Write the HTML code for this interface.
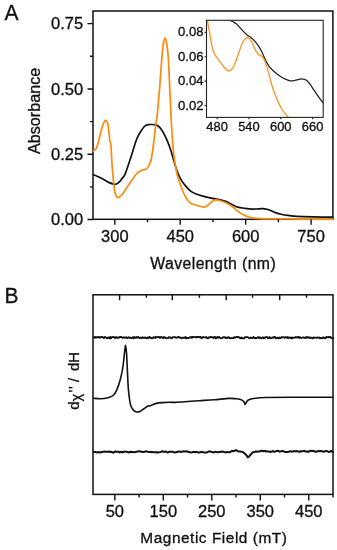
<!DOCTYPE html><html><head><meta charset="utf-8"><style>
html,body{margin:0;padding:0;background:#fff;width:337px;height:550px;overflow:hidden}
svg{display:block}
text{font-family:'Liberation Sans',Arial,Helvetica,sans-serif;fill:#111;stroke:#111;stroke-width:0.32px}
</style></head><body>
<svg width="337" height="550" viewBox="0 0 337 550">
<rect width="337" height="550" fill="#fff"/>
<text transform="translate(4.4 19.65) scale(0.94 1)" font-size="22.3">A</text>
<text transform="translate(4.5 302.9) scale(0.94 1)" font-size="22.3">B</text>
<defs><clipPath id="ca"><rect x="92.70" y="11.00" width="240.50" height="209.20"/></clipPath>
<clipPath id="ci"><rect x="206.50" y="20.30" width="116.70" height="97.10"/></clipPath></defs>
<rect x="93.00" y="11.00" width="239.90" height="208.30" fill="none" stroke="#111" stroke-width="1.5"/>
<g clip-path="url(#ca)" fill="none" stroke-linejoin="round" stroke-linecap="round">
<path d="M93.30 174.70 C94.67 175.28 98.95 176.92 101.50 178.20 C104.05 179.48 106.33 181.38 108.60 182.40 C110.87 183.42 113.42 184.30 115.10 184.30 C116.78 184.30 117.55 183.35 118.70 182.40 C119.85 181.45 120.98 179.87 122.00 178.60 C123.02 177.33 123.90 176.60 124.80 174.80 C125.70 173.00 126.50 170.38 127.40 167.80 C128.30 165.22 129.22 162.35 130.20 159.30 C131.18 156.25 132.37 152.47 133.30 149.50 C134.23 146.53 134.97 143.82 135.80 141.50 C136.63 139.18 137.32 137.52 138.30 135.60 C139.28 133.68 140.67 131.55 141.70 130.00 C142.73 128.45 143.43 127.18 144.50 126.30 C145.57 125.42 146.78 125.00 148.10 124.70 C149.42 124.40 151.10 124.47 152.40 124.50 C153.70 124.53 154.83 124.57 155.90 124.90 C156.97 125.23 157.95 125.82 158.80 126.50 C159.65 127.18 160.20 127.88 161.00 129.00 C161.80 130.12 162.58 131.30 163.60 133.20 C164.62 135.10 165.92 137.62 167.10 140.40 C168.28 143.18 169.63 146.72 170.70 149.90 C171.77 153.08 172.50 156.15 173.50 159.50 C174.50 162.85 175.57 166.87 176.70 170.00 C177.83 173.13 178.90 175.73 180.30 178.30 C181.70 180.87 183.32 183.22 185.10 185.40 C186.88 187.58 189.03 189.92 191.00 191.40 C192.97 192.88 194.92 193.52 196.90 194.30 C198.88 195.08 200.32 195.42 202.90 196.10 C205.48 196.78 209.58 197.78 212.40 198.40 C215.22 199.02 217.57 199.32 219.80 199.80 C222.03 200.28 223.82 200.55 225.80 201.30 C227.78 202.05 229.73 203.33 231.70 204.30 C233.67 205.27 235.37 206.42 237.60 207.10 C239.83 207.78 242.63 208.07 245.10 208.40 C247.57 208.73 250.25 209.02 252.40 209.10 C254.55 209.18 256.27 208.97 258.00 208.90 C259.73 208.83 261.02 208.55 262.80 208.70 C264.58 208.85 266.72 209.18 268.70 209.80 C270.68 210.42 272.47 211.62 274.70 212.40 C276.93 213.18 279.63 213.97 282.10 214.50 C284.57 215.03 287.03 215.28 289.50 215.60 C291.97 215.92 292.85 216.18 296.90 216.40 C300.95 216.62 307.70 216.77 313.80 216.90 C319.90 217.03 330.22 217.15 333.50 217.20" stroke="#111" stroke-width="1.7"/>
<path d="M93.30 151.00 C93.82 150.53 95.43 150.18 96.40 148.20 C97.37 146.22 98.20 142.43 99.10 139.10 C100.00 135.77 100.90 131.17 101.80 128.20 C102.70 125.23 103.80 122.58 104.50 121.30 C105.20 120.02 105.45 120.12 106.00 120.50 C106.55 120.88 107.28 121.42 107.80 123.60 C108.32 125.78 108.73 130.53 109.10 133.60 C109.47 136.67 109.70 140.18 110.00 142.00 C110.30 143.82 110.60 141.35 110.90 144.50 C111.20 147.65 111.40 155.13 111.80 160.90 C112.20 166.67 112.85 174.25 113.30 179.10 C113.75 183.95 114.02 187.15 114.50 190.00 C114.98 192.85 115.58 194.93 116.20 196.20 C116.82 197.47 117.48 197.60 118.20 197.60 C118.92 197.60 119.62 197.02 120.50 196.20 C121.38 195.38 122.22 194.47 123.50 192.70 C124.78 190.93 126.62 187.97 128.20 185.60 C129.78 183.23 131.42 180.67 133.00 178.50 C134.58 176.33 136.22 173.98 137.70 172.60 C139.18 171.22 140.60 170.73 141.90 170.20 C143.20 169.67 144.42 170.00 145.50 169.40 C146.58 168.80 147.52 168.05 148.40 166.60 C149.28 165.15 150.10 163.30 150.80 160.70 C151.50 158.10 152.07 154.45 152.60 151.00 C153.13 147.55 153.50 144.17 154.00 140.00 C154.50 135.83 155.05 130.33 155.60 126.00 C156.15 121.67 156.80 118.33 157.30 114.00 C157.80 109.67 158.18 104.67 158.60 100.00 C159.02 95.33 159.23 93.27 159.80 86.00 C160.37 78.73 161.37 63.73 162.00 56.40 C162.63 49.07 163.10 45.07 163.60 42.00 C164.10 38.93 164.53 38.00 165.00 38.00 C165.47 38.00 165.87 38.93 166.40 42.00 C166.93 45.07 167.67 49.23 168.20 56.40 C168.73 63.57 169.25 77.73 169.60 85.00 C169.95 92.27 170.03 94.17 170.30 100.00 C170.57 105.83 170.87 113.83 171.20 120.00 C171.53 126.17 171.87 131.17 172.30 137.00 C172.73 142.83 173.15 149.50 173.80 155.00 C174.45 160.50 175.52 166.32 176.20 170.00 C176.88 173.68 177.02 174.13 177.90 177.10 C178.78 180.07 180.30 184.63 181.50 187.80 C182.70 190.97 183.72 193.63 185.10 196.10 C186.48 198.57 188.03 201.12 189.80 202.60 C191.57 204.08 193.52 204.27 195.70 205.00 C197.88 205.73 201.02 206.87 202.90 207.00 C204.78 207.13 205.67 206.55 207.00 205.80 C208.33 205.05 209.50 203.50 210.90 202.50 C212.30 201.50 213.67 200.05 215.40 199.80 C217.13 199.55 219.32 200.38 221.30 201.00 C223.28 201.62 225.32 202.45 227.30 203.50 C229.28 204.55 231.23 205.82 233.20 207.30 C235.17 208.78 237.12 211.02 239.10 212.40 C241.08 213.78 243.13 214.73 245.10 215.60 C247.07 216.47 248.45 217.10 250.90 217.60 C253.35 218.10 256.62 218.38 259.80 218.60 C262.98 218.82 263.30 218.83 270.00 218.90 C276.70 218.97 289.42 218.98 300.00 219.00 C310.58 219.02 327.92 219.00 333.50 219.00" stroke="#FD8B10" stroke-width="1.75"/>
</g>
<rect x="206.50" y="20.30" width="116.70" height="97.10" fill="#fff"/>
<g clip-path="url(#ci)" fill="none" stroke-linejoin="round" stroke-linecap="round">
<path d="M227.00 18.90 C227.48 19.15 228.82 19.88 229.90 20.40 C230.98 20.92 232.32 21.33 233.50 22.00 C234.68 22.67 235.52 23.00 237.00 24.40 C238.48 25.80 240.77 28.68 242.40 30.40 C244.03 32.12 245.32 33.47 246.80 34.70 C248.28 35.93 249.90 36.65 251.30 37.80 C252.70 38.95 253.85 40.02 255.20 41.60 C256.55 43.18 258.17 45.32 259.40 47.30 C260.63 49.28 261.58 51.38 262.60 53.50 C263.62 55.62 264.60 58.15 265.50 60.00 C266.40 61.85 267.22 63.30 268.00 64.60 C268.78 65.90 269.05 66.53 270.20 67.80 C271.35 69.07 273.12 70.72 274.90 72.20 C276.68 73.68 279.05 75.50 280.90 76.70 C282.75 77.90 284.40 78.72 286.00 79.40 C287.60 80.08 289.17 80.60 290.50 80.80 C291.83 81.00 292.82 80.78 294.00 80.60 C295.18 80.42 296.27 80.00 297.60 79.70 C298.93 79.40 300.52 78.70 302.00 78.80 C303.48 78.90 305.17 79.40 306.50 80.30 C307.83 81.20 308.82 82.65 310.00 84.20 C311.18 85.75 312.40 87.82 313.60 89.60 C314.80 91.38 316.02 93.20 317.20 94.90 C318.38 96.60 319.67 98.42 320.70 99.80 C321.73 101.18 322.72 102.30 323.40 103.20 C324.08 104.10 324.57 104.87 324.80 105.20" stroke="#222" stroke-width="1.3"/>
<path d="M206.90 18.50 C206.98 18.87 206.97 18.42 207.40 20.70 C207.83 22.98 208.72 27.90 209.50 32.20 C210.28 36.50 211.22 42.78 212.10 46.50 C212.98 50.22 213.62 52.13 214.80 54.50 C215.98 56.87 217.57 58.48 219.20 60.70 C220.83 62.92 222.97 66.07 224.60 67.80 C226.23 69.53 227.52 71.23 229.00 71.10 C230.48 70.97 232.02 69.62 233.50 67.00 C234.98 64.38 236.45 59.37 237.90 55.40 C239.35 51.43 241.00 45.93 242.20 43.20 C243.40 40.47 244.18 39.90 245.10 39.00 C246.02 38.10 246.83 37.75 247.70 37.80 C248.57 37.85 249.45 38.27 250.30 39.30 C251.15 40.33 251.97 42.25 252.80 44.00 C253.63 45.75 254.38 48.10 255.30 49.80 C256.22 51.50 257.18 53.08 258.30 54.20 C259.42 55.32 260.98 55.53 262.00 56.50 C263.02 57.47 263.63 58.43 264.40 60.00 C265.17 61.57 265.83 63.53 266.60 65.90 C267.37 68.27 268.20 71.23 269.00 74.20 C269.80 77.17 270.27 79.98 271.40 83.70 C272.53 87.42 274.03 92.20 275.80 96.50 C277.57 100.80 279.72 105.82 282.00 109.50 C284.28 113.18 288.25 117.08 289.50 118.60" stroke="#FC9528" stroke-width="1.35"/>
</g>
<rect x="206.50" y="20.30" width="116.70" height="97.10" fill="none" stroke="#222" stroke-width="1.1"/>
<text x="203.6" y="109.56" font-size="13.15" text-anchor="end">0.02</text>
<text x="203.6" y="85.19" font-size="13.15" text-anchor="end">0.04</text>
<text x="203.6" y="60.82" font-size="13.15" text-anchor="end">0.06</text>
<text x="203.6" y="36.45" font-size="13.15" text-anchor="end">0.08</text>
<text x="217.11" y="131.2" font-size="12.9" text-anchor="middle">480</text>
<text x="248.94" y="131.2" font-size="12.9" text-anchor="middle">540</text>
<text x="280.77" y="131.2" font-size="12.9" text-anchor="middle">600</text>
<text x="312.60" y="131.2" font-size="12.9" text-anchor="middle">660</text>
<path d="M204.50 105.51H206.50 M204.50 81.14H206.50 M204.50 56.77H206.50 M204.50 32.40H206.50 M217.11 117.40V119.20 M248.94 117.40V119.20 M280.77 117.40V119.20 M312.60 117.40V119.20" stroke="#222" stroke-width="1.1" fill="none"/>
<text x="83.1" y="225.10" font-size="16.5" text-anchor="end">0.00</text>
<text x="83.1" y="159.82" font-size="16.5" text-anchor="end">0.25</text>
<text x="83.1" y="94.55" font-size="16.5" text-anchor="end">0.50</text>
<text x="83.1" y="29.27" font-size="16.5" text-anchor="end">0.75</text>
<text x="114.81" y="241.9" font-size="16.5" text-anchor="middle">300</text>
<text x="180.24" y="241.9" font-size="16.5" text-anchor="middle">450</text>
<text x="245.66" y="241.9" font-size="16.5" text-anchor="middle">600</text>
<text x="311.09" y="241.9" font-size="16.5" text-anchor="middle">750</text>
<path d="M87.50 219.50H93.00 M90.00 186.86H93.00 M87.50 154.22H93.00 M90.00 121.59H93.00 M87.50 88.95H93.00 M90.00 56.31H93.00 M87.50 23.67H93.00 M114.81 219.30V224.80 M147.52 219.30V222.30 M180.24 219.30V224.80 M212.95 219.30V222.30 M245.66 219.30V224.80 M278.38 219.30V222.30 M311.09 219.30V224.80" stroke="#111" stroke-width="1.4" fill="none"/>
<text x="213" y="269.2" font-size="15.8" textLength="125.4" text-anchor="middle">Wavelength (nm)</text>
<text transform="translate(39.8 110.9) rotate(-90)" font-size="16.2" text-anchor="middle">Absorbance</text>
<g fill="none" stroke="#111" stroke-linejoin="round" stroke-linecap="round">
<path d="M93.50 337.34 L94.30 337.08 L95.10 337.83 L95.90 336.96 L96.70 337.65 L97.50 337.40 L98.30 336.94 L99.10 337.61 L99.90 336.91 L100.70 337.50 L101.50 336.95 L102.30 336.99 L103.10 337.49 L103.90 338.09 L104.70 337.04 L105.50 337.18 L106.30 337.79 L107.10 338.27 L107.90 337.72 L108.70 337.45 L109.50 338.31 L110.30 336.92 L111.10 338.14 L111.90 337.28 L112.70 337.07 L113.50 337.03 L114.30 337.31 L115.10 338.07 L115.90 337.12 L116.70 337.72 L117.50 337.81 L118.30 337.41 L119.10 337.67 L119.90 336.94 L120.70 336.94 L121.50 337.16 L122.30 337.87 L123.10 337.49 L123.90 337.32 L124.70 337.73 L125.50 337.53 L126.30 337.30 L127.10 338.04 L127.90 337.90 L128.70 337.22 L129.50 337.71 L130.30 337.64 L131.10 338.16 L131.90 337.94 L132.70 337.28 L133.50 338.32 L134.30 337.03 L135.10 337.48 L135.90 337.99 L136.70 337.08 L137.50 337.58 L138.30 336.91 L139.10 337.85 L139.90 338.00 L140.70 337.71 L141.50 338.16 L142.30 337.32 L143.10 337.89 L143.90 337.74 L144.70 337.72 L145.50 337.53 L146.30 338.11 L147.10 338.27 L147.90 337.56 L148.70 337.85 L149.50 336.94 L150.30 337.90 L151.10 337.82 L151.90 338.34 L152.70 338.08 L153.50 337.28 L154.30 337.43 L155.10 337.85 L155.90 336.88 L156.70 337.54 L157.50 337.10 L158.30 337.03 L159.10 336.94 L159.90 338.00 L160.70 337.04 L161.50 337.22 L162.30 337.44 L163.10 338.16 L163.90 336.97 L164.70 337.52 L165.50 337.67 L166.30 338.18 L167.10 338.08 L167.90 338.15 L168.70 337.27 L169.50 337.47 L170.30 337.39 L171.10 338.18 L171.90 338.29 L172.70 337.08 L173.50 337.11 L174.30 337.20 L175.10 337.20 L175.90 337.58 L176.70 337.73 L177.50 337.24 L178.30 336.86 L179.10 337.48 L179.90 337.40 L180.70 337.70 L181.50 338.28 L182.30 337.89 L183.10 337.62 L183.90 337.78 L184.70 337.86 L185.50 336.93 L186.30 338.20 L187.10 338.02 L187.90 338.16 L188.70 338.05 L189.50 337.44 L190.30 337.45 L191.10 337.01 L191.90 337.80 L192.70 336.94 L193.50 336.95 L194.30 337.16 L195.10 337.09 L195.90 337.36 L196.70 336.93 L197.50 336.85 L198.30 337.08 L199.10 337.00 L199.90 337.40 L200.70 336.89 L201.50 338.16 L202.30 337.77 L203.10 337.07 L203.90 337.23 L204.70 337.37 L205.50 337.40 L206.30 337.03 L207.10 338.12 L207.90 338.34 L208.70 337.55 L209.50 337.58 L210.30 336.98 L211.10 337.00 L211.90 337.36 L212.70 337.25 L213.50 338.09 L214.30 337.09 L215.10 336.88 L215.90 338.28 L216.70 337.64 L217.50 337.07 L218.30 337.66 L219.10 336.89 L219.90 337.64 L220.70 338.32 L221.50 338.14 L222.30 337.89 L223.10 337.24 L223.90 337.40 L224.70 337.10 L225.50 338.01 L226.30 337.65 L227.10 338.02 L227.90 337.34 L228.70 337.18 L229.50 338.07 L230.30 338.33 L231.10 338.13 L231.90 338.06 L232.70 338.08 L233.50 337.96 L234.30 337.19 L235.10 337.63 L235.90 337.38 L236.70 336.89 L237.50 336.89 L238.30 337.27 L239.10 337.24 L239.90 337.89 L240.70 338.28 L241.50 337.52 L242.30 338.26 L243.10 338.33 L243.90 338.28 L244.70 337.40 L245.50 337.18 L246.30 337.19 L247.10 337.15 L247.90 337.16 L248.70 337.79 L249.50 338.20 L250.30 338.11 L251.10 337.57 L251.90 337.83 L252.70 338.05 L253.50 336.98 L254.30 337.84 L255.10 338.21 L255.90 338.02 L256.70 337.98 L257.50 337.57 L258.30 337.12 L259.10 338.03 L259.90 337.35 L260.70 338.05 L261.50 338.31 L262.30 337.44 L263.10 337.45 L263.90 338.27 L264.70 337.94 L265.50 337.11 L266.30 337.04 L267.10 337.08 L267.90 338.21 L268.70 338.06 L269.50 337.07 L270.30 338.09 L271.10 338.32 L271.90 337.84 L272.70 337.38 L273.50 337.67 L274.30 337.05 L275.10 336.87 L275.90 338.31 L276.70 337.82 L277.50 337.64 L278.30 338.25 L279.10 337.50 L279.90 338.16 L280.70 338.09 L281.50 337.17 L282.30 337.23 L283.10 337.29 L283.90 337.21 L284.70 337.73 L285.50 337.24 L286.30 337.48 L287.10 337.05 L287.90 338.22 L288.70 337.38 L289.50 337.54 L290.30 337.73 L291.10 338.21 L291.90 337.48 L292.70 338.23 L293.50 337.60 L294.30 337.65 L295.10 337.64 L295.90 336.88 L296.70 337.51 L297.50 337.12 L298.30 336.86 L299.10 338.05 L299.90 337.11 L300.70 337.56 L301.50 337.94 L302.30 337.68 L303.10 337.34 L303.90 337.63 L304.70 337.68 L305.50 338.03 L306.30 337.01 L307.10 337.69 L307.90 337.22 L308.70 337.27 L309.50 338.01 L310.30 337.61 L311.10 337.69 L311.90 337.99 L312.70 338.22 L313.50 337.51 L314.30 337.77 L315.10 337.61 L315.90 337.62 L316.70 337.89 L317.50 337.53 L318.30 337.65 L319.10 337.57 L319.90 338.26 L320.70 337.90 L321.50 338.16 L322.30 338.26 L323.10 337.24 L323.90 337.69 L324.70 338.26 L325.50 338.11 L326.30 337.06 L327.10 337.03 L327.90 337.51 L328.70 336.96 L329.50 337.21 L330.30 336.96 L331.10 337.85 L331.90 338.03 L332.70 338.20" stroke-width="1.9"/>
<path d="M93.50 451.88 L94.20 452.02 L94.90 452.01 L95.60 452.11 L96.30 452.30 L97.00 452.34 L97.70 452.38 L98.40 452.04 L99.10 452.20 L99.80 452.23 L100.50 452.49 L101.20 452.29 L101.90 451.96 L102.60 451.77 L103.30 451.87 L104.00 451.73 L104.70 451.61 L105.40 451.84 L106.10 451.74 L106.80 451.88 L107.50 451.71 L108.20 451.71 L108.90 451.57 L109.60 451.68 L110.30 451.98 L111.00 451.82 L111.70 452.04 L112.40 452.20 L113.10 452.75 L113.80 452.22 L114.50 451.91 L115.20 451.35 L115.90 451.75 L116.60 451.75 L117.30 451.81 L118.00 451.59 L118.70 451.98 L119.40 452.39 L120.10 452.29 L120.80 451.84 L121.50 451.90 L122.20 452.08 L122.90 452.41 L123.60 451.92 L124.30 451.61 L125.00 451.60 L125.70 451.80 L126.40 451.81 L127.10 451.96 L127.80 452.09 L128.50 452.52 L129.20 452.01 L129.90 452.14 L130.60 451.70 L131.30 452.17 L132.00 451.93 L132.70 452.09 L133.40 451.91 L134.10 452.19 L134.80 452.15 L135.50 451.89 L136.20 451.65 L136.90 451.64 L137.60 451.62 L138.30 451.41 L139.00 451.29 L139.70 451.35 L140.40 451.44 L141.10 451.59 L141.80 451.93 L142.50 451.91 L143.20 452.03 L143.90 451.68 L144.60 451.71 L145.30 451.43 L146.00 451.47 L146.70 451.27 L147.40 451.70 L148.10 451.88 L148.80 451.98 L149.50 451.83 L150.20 452.06 L150.90 452.01 L151.60 452.22 L152.30 451.91 L153.00 452.15 L153.70 452.16 L154.40 452.13 L155.10 452.14 L155.80 452.05 L156.50 452.41 L157.20 452.31 L157.90 452.39 L158.60 452.23 L159.30 452.40 L160.00 452.15 L160.70 451.93 L161.40 451.58 L162.10 451.42 L162.80 451.25 L163.50 451.66 L164.20 451.74 L164.90 451.80 L165.60 451.40 L166.30 451.75 L167.00 452.18 L167.70 452.53 L168.40 452.19 L169.10 451.82 L169.80 451.59 L170.50 451.70 L171.20 451.65 L171.90 451.74 L172.60 451.62 L173.30 452.10 L174.00 452.42 L174.70 452.59 L175.40 452.16 L176.10 452.15 L176.80 452.01 L177.50 452.08 L178.20 451.50 L178.90 451.54 L179.60 451.61 L180.30 451.92 L181.00 451.81 L181.70 451.83 L182.40 451.53 L183.10 451.56 L183.80 451.32 L184.50 451.55 L185.20 451.42 L185.90 451.38 L186.60 451.32 L187.30 451.44 L188.00 451.77 L188.70 451.91 L189.40 452.22 L190.10 452.26 L190.80 452.37 L191.50 452.45 L192.20 452.29 L192.90 452.06 L193.60 452.12 L194.30 451.98 L195.00 452.22 L195.70 452.01 L196.40 451.95 L197.10 452.01 L197.80 452.16 L198.50 452.51 L199.20 452.45 L199.90 452.40 L200.60 452.11 L201.30 451.99 L202.00 451.80 L202.70 452.22 L203.40 452.39 L204.10 452.58 L204.80 452.43 L205.50 452.48 L206.20 452.40 L206.90 452.46 L207.60 452.06 L208.30 451.67 L209.00 451.34 L209.70 451.41 L210.40 451.46 L211.10 451.88 L211.80 452.00 L212.50 452.31 L213.20 452.19 L213.90 452.26 L214.60 452.18 L215.30 451.80 L216.00 451.87 L216.70 452.03 L217.40 452.33 L218.10 452.17 L218.80 452.12 L219.50 451.86 L220.20 451.98 L220.90 451.73 L221.60 451.74 L222.30 451.46 L223.00 451.74 L223.70 451.82 L224.40 452.10 L225.10 452.25 L225.80 452.42 L226.50 452.21 L227.20 451.90 L227.90 452.00 L228.60 452.21 L229.30 452.26 L230.00 452.18 L230.70 451.68 L231.40 451.29 L232.10 450.92 L232.80 451.15 L233.50 451.07 L234.20 451.10 L234.90 450.54 L235.60 450.32 L236.30 450.14 L237.00 450.59 L237.70 451.09 L238.40 451.49 L239.10 451.44 L239.80 451.50 L240.50 451.52 L241.20 451.76 L241.90 451.65 L242.60 452.07 L243.30 452.14 L244.00 453.03 L244.70 453.62 L245.40 454.28 L246.10 454.87 L246.80 455.70 L247.50 456.96 L248.20 457.26 L248.90 456.76 L249.60 455.71 L250.30 455.15 L251.00 454.19 L251.70 453.60 L252.40 452.51 L253.10 452.29 L253.80 452.28 L254.50 451.96 L255.20 451.88 L255.90 451.39 L256.60 451.83 L257.30 451.76 L258.00 451.59 L258.70 451.60 L259.40 451.47 L260.10 451.35 L260.80 450.81 L261.50 450.81 L262.20 451.07 L262.90 451.25 L263.60 451.04 L264.30 450.97 L265.00 450.98 L265.70 451.40 L266.40 451.19 L267.10 451.46 L267.80 451.45 L268.50 451.53 L269.20 451.63 L269.90 451.56 L270.60 452.02 L271.30 451.64 L272.00 451.44 L272.70 451.13 L273.40 451.56 L274.10 451.69 L274.80 451.67 L275.50 451.33 L276.20 451.14 L276.90 450.95 L277.60 450.76 L278.30 451.09 L279.00 451.23 L279.70 451.73 L280.40 451.38 L281.10 451.37 L281.80 451.12 L282.50 451.08 L283.20 451.14 L283.90 451.41 L284.60 451.83 L285.30 452.09 L286.00 451.90 L286.70 451.91 L287.40 451.99 L288.10 451.94 L288.80 451.83 L289.50 451.29 L290.20 451.40 L290.90 451.24 L291.60 451.66 L292.30 451.61 L293.00 451.51 L293.70 451.09 L294.40 451.26 L295.10 451.16 L295.80 451.42 L296.50 451.07 L297.20 451.17 L297.90 451.33 L298.60 451.71 L299.30 451.69 L300.00 451.64 L300.70 451.23 L301.40 451.41 L302.10 451.25 L302.80 451.17 L303.50 450.93 L304.20 450.82 L304.90 451.27 L305.60 451.47 L306.30 451.47 L307.00 451.47 L307.70 451.77 L308.40 451.91 L309.10 451.45 L309.80 450.97 L310.50 450.75 L311.20 450.88 L311.90 450.81 L312.60 450.90 L313.30 450.85 L314.00 451.14 L314.70 451.53 L315.40 451.82 L316.10 451.73 L316.80 451.45 L317.50 451.31 L318.20 451.29 L318.90 451.24 L319.60 450.97 L320.30 450.91 L321.00 451.28 L321.70 451.32 L322.40 451.46 L323.10 451.26 L323.80 451.70 L324.50 451.53 L325.20 451.31 L325.90 450.94 L326.60 451.05 L327.30 451.16 L328.00 451.58 L328.70 451.85 L329.40 452.11 L330.10 451.55 L330.80 451.06 L331.50 450.96 L332.20 451.48 L332.90 451.94" stroke-width="2.0"/>
<path d="M93.60 398.20 C94.78 398.28 98.33 398.78 100.70 398.70 C103.07 398.62 105.73 398.23 107.80 397.70 C109.87 397.17 111.62 396.75 113.10 395.50 C114.58 394.25 115.50 392.87 116.70 390.20 C117.90 387.53 119.27 383.37 120.30 379.50 C121.33 375.63 122.20 371.45 122.90 367.00 C123.60 362.55 124.07 356.42 124.50 352.80 C124.93 349.18 125.17 345.30 125.50 345.30 C125.83 345.30 126.18 348.58 126.50 352.80 C126.82 357.02 127.10 364.67 127.40 370.60 C127.70 376.53 127.95 383.67 128.30 388.40 C128.65 393.13 129.07 396.07 129.50 399.00 C129.93 401.93 130.17 404.07 130.90 406.00 C131.63 407.93 132.90 409.60 133.90 410.60 C134.90 411.60 135.92 411.85 136.90 412.00 C137.88 412.15 138.57 412.08 139.80 411.50 C141.03 410.92 142.93 409.40 144.30 408.50 C145.67 407.60 147.02 406.53 148.00 406.10 C148.98 405.67 149.47 406.12 150.20 405.90 C150.93 405.68 151.40 405.22 152.40 404.80 C153.40 404.38 154.58 403.77 156.20 403.40 C157.82 403.03 159.88 402.78 162.10 402.60 C164.32 402.42 167.35 402.33 169.50 402.30 C171.65 402.27 172.50 402.50 175.00 402.40 C177.50 402.30 180.45 401.98 184.50 401.70 C188.55 401.42 194.35 401.03 199.30 400.70 C204.25 400.37 209.25 400.08 214.20 399.70 C219.15 399.32 225.37 398.55 229.00 398.40 C232.63 398.25 234.08 398.60 236.00 398.80 C237.92 399.00 239.28 399.22 240.50 399.60 C241.72 399.98 242.63 400.55 243.30 401.10 C243.97 401.65 244.18 402.33 244.50 402.90 C244.82 403.47 244.97 404.48 245.20 404.50 C245.43 404.52 245.63 403.48 245.90 403.00 C246.17 402.52 246.37 402.10 246.80 401.60 C247.23 401.10 247.63 400.47 248.50 400.00 C249.37 399.53 250.42 399.13 252.00 398.80 C253.58 398.47 255.85 398.22 258.00 398.00 C260.15 397.78 259.32 397.62 264.90 397.50 C270.48 397.38 280.15 397.33 291.50 397.30 C302.85 397.27 326.08 397.30 333.00 397.30" stroke-width="1.6"/>
</g>
<rect x="93.00" y="294.80" width="240.00" height="199.60" fill="none" stroke="#111" stroke-width="1.5"/>
<text x="114.82" y="516.9" font-size="16.5" text-anchor="middle">50</text>
<text x="163.30" y="516.9" font-size="16.5" text-anchor="middle">150</text>
<text x="211.79" y="516.9" font-size="16.5" text-anchor="middle">250</text>
<text x="260.27" y="516.9" font-size="16.5" text-anchor="middle">350</text>
<text x="308.76" y="516.9" font-size="16.5" text-anchor="middle">450</text>
<path d="M114.82 494.40V500.40 M139.06 494.40V497.40 M163.30 494.40V500.40 M187.55 494.40V497.40 M211.79 494.40V500.40 M236.03 494.40V497.40 M260.27 494.40V500.40 M284.52 494.40V497.40 M308.76 494.40V500.40 M333.00 494.40V497.40 M119.60 294.80V300.30 M146.40 294.80V297.80 M172.30 294.80V300.30 M199.40 294.80V297.80 M226.20 294.80V300.30 M252.60 294.80V297.80 M279.70 294.80V300.30 M306.50 294.80V297.80" stroke="#111" stroke-width="1.4" fill="none"/>
<text x="213.6" y="543.4" font-size="15.4" textLength="146.5" text-anchor="middle">Magnetic Field (mT)</text>
<text transform="translate(79.2 410.0) rotate(-90)" font-size="14.8"><tspan x="0.3">d</tspan><tspan x="8.6" dy="1.5">&#967;</tspan><tspan x="17.6" dy="-1.5">'</tspan><tspan x="20.9">' </tspan><tspan x="28.0">/ </tspan><tspan x="38.9">d</tspan><tspan x="47.2">H</tspan></text>
</svg></body></html>
